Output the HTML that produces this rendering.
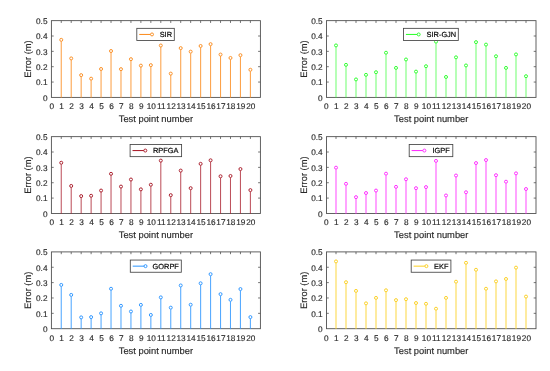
<!DOCTYPE html>
<html><head><meta charset="utf-8"><title>Error per test point</title>
<style>html,body{margin:0;padding:0;background:#fff;}body{width:550px;height:371px;overflow:hidden;font-family:"Liberation Sans",Arial,sans-serif;}svg{display:block;}</style>
</head><body>
<svg width="550" height="371" viewBox="0 0 550 371" font-family="Liberation Sans, Arial, sans-serif" text-rendering="geometricPrecision"><rect width="550" height="371" fill="#fff"/><style>text{stroke:#2a2a2a;stroke-width:0.15px;}</style><g><text x="51.70" y="109.40" font-size="8.25" fill="#2a2a2a" text-anchor="middle">0</text><line x1="61.25" y1="20.65" x2="61.25" y2="22.95" stroke="#505050" stroke-width="0.8"/><text x="61.65" y="109.40" font-size="8.25" fill="#2a2a2a" text-anchor="middle">1</text><line x1="71.21" y1="20.65" x2="71.21" y2="22.95" stroke="#505050" stroke-width="0.8"/><text x="71.61" y="109.40" font-size="8.25" fill="#2a2a2a" text-anchor="middle">2</text><line x1="81.16" y1="20.65" x2="81.16" y2="22.95" stroke="#505050" stroke-width="0.8"/><text x="81.56" y="109.40" font-size="8.25" fill="#2a2a2a" text-anchor="middle">3</text><line x1="91.12" y1="20.65" x2="91.12" y2="22.95" stroke="#505050" stroke-width="0.8"/><text x="91.52" y="109.40" font-size="8.25" fill="#2a2a2a" text-anchor="middle">4</text><line x1="101.07" y1="20.65" x2="101.07" y2="22.95" stroke="#505050" stroke-width="0.8"/><text x="101.47" y="109.40" font-size="8.25" fill="#2a2a2a" text-anchor="middle">5</text><line x1="111.03" y1="20.65" x2="111.03" y2="22.95" stroke="#505050" stroke-width="0.8"/><text x="111.43" y="109.40" font-size="8.25" fill="#2a2a2a" text-anchor="middle">6</text><line x1="120.98" y1="20.65" x2="120.98" y2="22.95" stroke="#505050" stroke-width="0.8"/><text x="121.39" y="109.40" font-size="8.25" fill="#2a2a2a" text-anchor="middle">7</text><line x1="130.94" y1="20.65" x2="130.94" y2="22.95" stroke="#505050" stroke-width="0.8"/><text x="131.34" y="109.40" font-size="8.25" fill="#2a2a2a" text-anchor="middle">8</text><line x1="140.89" y1="20.65" x2="140.89" y2="22.95" stroke="#505050" stroke-width="0.8"/><text x="141.29" y="109.40" font-size="8.25" fill="#2a2a2a" text-anchor="middle">9</text><line x1="150.85" y1="20.65" x2="150.85" y2="22.95" stroke="#505050" stroke-width="0.8"/><text x="151.25" y="109.40" font-size="8.25" fill="#2a2a2a" text-anchor="middle">10</text><line x1="160.81" y1="20.65" x2="160.81" y2="22.95" stroke="#505050" stroke-width="0.8"/><text x="161.21" y="109.40" font-size="8.25" fill="#2a2a2a" text-anchor="middle">11</text><line x1="170.76" y1="20.65" x2="170.76" y2="22.95" stroke="#505050" stroke-width="0.8"/><text x="171.16" y="109.40" font-size="8.25" fill="#2a2a2a" text-anchor="middle">12</text><line x1="180.71" y1="20.65" x2="180.71" y2="22.95" stroke="#505050" stroke-width="0.8"/><text x="181.11" y="109.40" font-size="8.25" fill="#2a2a2a" text-anchor="middle">13</text><line x1="190.67" y1="20.65" x2="190.67" y2="22.95" stroke="#505050" stroke-width="0.8"/><text x="191.07" y="109.40" font-size="8.25" fill="#2a2a2a" text-anchor="middle">14</text><line x1="200.62" y1="20.65" x2="200.62" y2="22.95" stroke="#505050" stroke-width="0.8"/><text x="201.03" y="109.40" font-size="8.25" fill="#2a2a2a" text-anchor="middle">15</text><line x1="210.58" y1="20.65" x2="210.58" y2="22.95" stroke="#505050" stroke-width="0.8"/><text x="210.98" y="109.40" font-size="8.25" fill="#2a2a2a" text-anchor="middle">16</text><line x1="220.54" y1="20.65" x2="220.54" y2="22.95" stroke="#505050" stroke-width="0.8"/><text x="220.94" y="109.40" font-size="8.25" fill="#2a2a2a" text-anchor="middle">17</text><line x1="230.49" y1="20.65" x2="230.49" y2="22.95" stroke="#505050" stroke-width="0.8"/><text x="230.89" y="109.40" font-size="8.25" fill="#2a2a2a" text-anchor="middle">18</text><line x1="240.44" y1="20.65" x2="240.44" y2="22.95" stroke="#505050" stroke-width="0.8"/><text x="240.84" y="109.40" font-size="8.25" fill="#2a2a2a" text-anchor="middle">19</text><line x1="250.40" y1="20.65" x2="250.40" y2="22.95" stroke="#505050" stroke-width="0.8"/><text x="250.80" y="109.40" font-size="8.25" fill="#2a2a2a" text-anchor="middle">20</text><text x="47.50" y="100.80" font-size="8.25" fill="#2a2a2a" text-anchor="end">0</text><line x1="51.40" y1="82.05" x2="53.70" y2="82.05" stroke="#505050" stroke-width="0.8"/><line x1="260.40" y1="82.05" x2="258.10" y2="82.05" stroke="#505050" stroke-width="0.8"/><text x="47.50" y="85.45" font-size="8.25" fill="#2a2a2a" text-anchor="end">0.1</text><line x1="51.40" y1="66.70" x2="53.70" y2="66.70" stroke="#505050" stroke-width="0.8"/><line x1="260.40" y1="66.70" x2="258.10" y2="66.70" stroke="#505050" stroke-width="0.8"/><text x="47.50" y="70.10" font-size="8.25" fill="#2a2a2a" text-anchor="end">0.2</text><line x1="51.40" y1="51.35" x2="53.70" y2="51.35" stroke="#505050" stroke-width="0.8"/><line x1="260.40" y1="51.35" x2="258.10" y2="51.35" stroke="#505050" stroke-width="0.8"/><text x="47.50" y="54.75" font-size="8.25" fill="#2a2a2a" text-anchor="end">0.3</text><line x1="51.40" y1="36.00" x2="53.70" y2="36.00" stroke="#505050" stroke-width="0.8"/><line x1="260.40" y1="36.00" x2="258.10" y2="36.00" stroke="#505050" stroke-width="0.8"/><text x="47.50" y="39.40" font-size="8.25" fill="#2a2a2a" text-anchor="end">0.4</text><text x="47.50" y="24.05" font-size="8.25" fill="#2a2a2a" text-anchor="end">0.5</text><rect x="51.40" y="20.65" width="209.00" height="76.75" fill="none" stroke="#505050" stroke-width="0.9"/><line x1="61.25" y1="97.80" x2="61.25" y2="41.33" stroke="#FB9128" stroke-opacity="0.85" stroke-width="1.05"/><circle cx="61.25" cy="39.83" r="1.5" fill="#fff" stroke="#FB9128" stroke-width="1.0"/><line x1="71.21" y1="97.80" x2="71.21" y2="59.90" stroke="#FB9128" stroke-opacity="0.85" stroke-width="1.05"/><circle cx="71.21" cy="58.40" r="1.5" fill="#fff" stroke="#FB9128" stroke-width="1.0"/><line x1="81.16" y1="97.80" x2="81.16" y2="76.63" stroke="#FB9128" stroke-opacity="0.85" stroke-width="1.05"/><circle cx="81.16" cy="75.13" r="1.5" fill="#fff" stroke="#FB9128" stroke-width="1.0"/><line x1="91.12" y1="97.80" x2="91.12" y2="80.16" stroke="#FB9128" stroke-opacity="0.85" stroke-width="1.05"/><circle cx="91.12" cy="78.66" r="1.5" fill="#fff" stroke="#FB9128" stroke-width="1.0"/><line x1="101.07" y1="97.80" x2="101.07" y2="70.49" stroke="#FB9128" stroke-opacity="0.85" stroke-width="1.05"/><circle cx="101.07" cy="68.99" r="1.5" fill="#fff" stroke="#FB9128" stroke-width="1.0"/><line x1="111.03" y1="97.80" x2="111.03" y2="52.53" stroke="#FB9128" stroke-opacity="0.85" stroke-width="1.05"/><circle cx="111.03" cy="51.03" r="1.5" fill="#fff" stroke="#FB9128" stroke-width="1.0"/><line x1="120.98" y1="97.80" x2="120.98" y2="70.65" stroke="#FB9128" stroke-opacity="0.85" stroke-width="1.05"/><circle cx="120.98" cy="69.15" r="1.5" fill="#fff" stroke="#FB9128" stroke-width="1.0"/><line x1="130.94" y1="97.80" x2="130.94" y2="60.67" stroke="#FB9128" stroke-opacity="0.85" stroke-width="1.05"/><circle cx="130.94" cy="59.17" r="1.5" fill="#fff" stroke="#FB9128" stroke-width="1.0"/><line x1="140.89" y1="97.80" x2="140.89" y2="67.12" stroke="#FB9128" stroke-opacity="0.85" stroke-width="1.05"/><circle cx="140.89" cy="65.62" r="1.5" fill="#fff" stroke="#FB9128" stroke-width="1.0"/><line x1="150.85" y1="97.80" x2="150.85" y2="66.65" stroke="#FB9128" stroke-opacity="0.85" stroke-width="1.05"/><circle cx="150.85" cy="65.15" r="1.5" fill="#fff" stroke="#FB9128" stroke-width="1.0"/><line x1="160.81" y1="97.80" x2="160.81" y2="47.01" stroke="#FB9128" stroke-opacity="0.85" stroke-width="1.05"/><circle cx="160.81" cy="45.51" r="1.5" fill="#fff" stroke="#FB9128" stroke-width="1.0"/><line x1="170.76" y1="97.80" x2="170.76" y2="75.10" stroke="#FB9128" stroke-opacity="0.85" stroke-width="1.05"/><circle cx="170.76" cy="73.60" r="1.5" fill="#fff" stroke="#FB9128" stroke-width="1.0"/><line x1="180.71" y1="97.80" x2="180.71" y2="49.62" stroke="#FB9128" stroke-opacity="0.85" stroke-width="1.05"/><circle cx="180.71" cy="48.12" r="1.5" fill="#fff" stroke="#FB9128" stroke-width="1.0"/><line x1="190.67" y1="97.80" x2="190.67" y2="53.15" stroke="#FB9128" stroke-opacity="0.85" stroke-width="1.05"/><circle cx="190.67" cy="51.65" r="1.5" fill="#fff" stroke="#FB9128" stroke-width="1.0"/><line x1="200.62" y1="97.80" x2="200.62" y2="47.47" stroke="#FB9128" stroke-opacity="0.85" stroke-width="1.05"/><circle cx="200.62" cy="45.97" r="1.5" fill="#fff" stroke="#FB9128" stroke-width="1.0"/><line x1="210.58" y1="97.80" x2="210.58" y2="45.63" stroke="#FB9128" stroke-opacity="0.85" stroke-width="1.05"/><circle cx="210.58" cy="44.13" r="1.5" fill="#fff" stroke="#FB9128" stroke-width="1.0"/><line x1="220.54" y1="97.80" x2="220.54" y2="56.06" stroke="#FB9128" stroke-opacity="0.85" stroke-width="1.05"/><circle cx="220.54" cy="54.56" r="1.5" fill="#fff" stroke="#FB9128" stroke-width="1.0"/><line x1="230.49" y1="97.80" x2="230.49" y2="59.44" stroke="#FB9128" stroke-opacity="0.85" stroke-width="1.05"/><circle cx="230.49" cy="57.94" r="1.5" fill="#fff" stroke="#FB9128" stroke-width="1.0"/><line x1="240.44" y1="97.80" x2="240.44" y2="56.68" stroke="#FB9128" stroke-opacity="0.85" stroke-width="1.05"/><circle cx="240.44" cy="55.18" r="1.5" fill="#fff" stroke="#FB9128" stroke-width="1.0"/><line x1="250.40" y1="97.80" x2="250.40" y2="71.26" stroke="#FB9128" stroke-opacity="0.85" stroke-width="1.05"/><circle cx="250.40" cy="69.76" r="1.5" fill="#fff" stroke="#FB9128" stroke-width="1.0"/><text x="155.90" y="122.30" font-size="9.35" fill="#2a2a2a" text-anchor="middle">Test point number</text><text transform="translate(31.40,59.03) rotate(-90)" font-size="9.35" fill="#2a2a2a" text-anchor="middle">Error (m)</text><rect x="136.80" y="28.35" width="37.50" height="12.20" fill="#fff" stroke="#444" stroke-width="0.85"/><line x1="139.20" y1="34.45" x2="152.00" y2="34.45" stroke="#FB9128" stroke-width="1.05"/><circle cx="152.00" cy="34.45" r="1.5" fill="#fff" stroke="#FB9128" stroke-width="1.0"/><text x="159.70" y="37.15" font-size="7.4" fill="#0a0a0a" style="stroke:#0a0a0a;stroke-width:0.2px">SIR</text></g><g><text x="326.40" y="109.40" font-size="8.25" fill="#2a2a2a" text-anchor="middle">0</text><line x1="336.00" y1="20.65" x2="336.00" y2="22.95" stroke="#505050" stroke-width="0.8"/><text x="336.40" y="109.40" font-size="8.25" fill="#2a2a2a" text-anchor="middle">1</text><line x1="346.00" y1="20.65" x2="346.00" y2="22.95" stroke="#505050" stroke-width="0.8"/><text x="346.40" y="109.40" font-size="8.25" fill="#2a2a2a" text-anchor="middle">2</text><line x1="356.00" y1="20.65" x2="356.00" y2="22.95" stroke="#505050" stroke-width="0.8"/><text x="356.40" y="109.40" font-size="8.25" fill="#2a2a2a" text-anchor="middle">3</text><line x1="366.00" y1="20.65" x2="366.00" y2="22.95" stroke="#505050" stroke-width="0.8"/><text x="366.40" y="109.40" font-size="8.25" fill="#2a2a2a" text-anchor="middle">4</text><line x1="376.00" y1="20.65" x2="376.00" y2="22.95" stroke="#505050" stroke-width="0.8"/><text x="376.40" y="109.40" font-size="8.25" fill="#2a2a2a" text-anchor="middle">5</text><line x1="386.00" y1="20.65" x2="386.00" y2="22.95" stroke="#505050" stroke-width="0.8"/><text x="386.40" y="109.40" font-size="8.25" fill="#2a2a2a" text-anchor="middle">6</text><line x1="396.00" y1="20.65" x2="396.00" y2="22.95" stroke="#505050" stroke-width="0.8"/><text x="396.40" y="109.40" font-size="8.25" fill="#2a2a2a" text-anchor="middle">7</text><line x1="406.00" y1="20.65" x2="406.00" y2="22.95" stroke="#505050" stroke-width="0.8"/><text x="406.40" y="109.40" font-size="8.25" fill="#2a2a2a" text-anchor="middle">8</text><line x1="416.00" y1="20.65" x2="416.00" y2="22.95" stroke="#505050" stroke-width="0.8"/><text x="416.40" y="109.40" font-size="8.25" fill="#2a2a2a" text-anchor="middle">9</text><line x1="426.00" y1="20.65" x2="426.00" y2="22.95" stroke="#505050" stroke-width="0.8"/><text x="426.40" y="109.40" font-size="8.25" fill="#2a2a2a" text-anchor="middle">10</text><line x1="436.00" y1="20.65" x2="436.00" y2="22.95" stroke="#505050" stroke-width="0.8"/><text x="436.40" y="109.40" font-size="8.25" fill="#2a2a2a" text-anchor="middle">11</text><line x1="446.00" y1="20.65" x2="446.00" y2="22.95" stroke="#505050" stroke-width="0.8"/><text x="446.40" y="109.40" font-size="8.25" fill="#2a2a2a" text-anchor="middle">12</text><line x1="456.00" y1="20.65" x2="456.00" y2="22.95" stroke="#505050" stroke-width="0.8"/><text x="456.40" y="109.40" font-size="8.25" fill="#2a2a2a" text-anchor="middle">13</text><line x1="466.00" y1="20.65" x2="466.00" y2="22.95" stroke="#505050" stroke-width="0.8"/><text x="466.40" y="109.40" font-size="8.25" fill="#2a2a2a" text-anchor="middle">14</text><line x1="476.00" y1="20.65" x2="476.00" y2="22.95" stroke="#505050" stroke-width="0.8"/><text x="476.40" y="109.40" font-size="8.25" fill="#2a2a2a" text-anchor="middle">15</text><line x1="486.00" y1="20.65" x2="486.00" y2="22.95" stroke="#505050" stroke-width="0.8"/><text x="486.40" y="109.40" font-size="8.25" fill="#2a2a2a" text-anchor="middle">16</text><line x1="496.00" y1="20.65" x2="496.00" y2="22.95" stroke="#505050" stroke-width="0.8"/><text x="496.40" y="109.40" font-size="8.25" fill="#2a2a2a" text-anchor="middle">17</text><line x1="506.00" y1="20.65" x2="506.00" y2="22.95" stroke="#505050" stroke-width="0.8"/><text x="506.40" y="109.40" font-size="8.25" fill="#2a2a2a" text-anchor="middle">18</text><line x1="516.00" y1="20.65" x2="516.00" y2="22.95" stroke="#505050" stroke-width="0.8"/><text x="516.40" y="109.40" font-size="8.25" fill="#2a2a2a" text-anchor="middle">19</text><line x1="526.00" y1="20.65" x2="526.00" y2="22.95" stroke="#505050" stroke-width="0.8"/><text x="526.40" y="109.40" font-size="8.25" fill="#2a2a2a" text-anchor="middle">20</text><text x="322.60" y="100.80" font-size="8.25" fill="#2a2a2a" text-anchor="end">0</text><line x1="326.50" y1="82.05" x2="328.80" y2="82.05" stroke="#505050" stroke-width="0.8"/><line x1="536.00" y1="82.05" x2="533.70" y2="82.05" stroke="#505050" stroke-width="0.8"/><text x="322.60" y="85.45" font-size="8.25" fill="#2a2a2a" text-anchor="end">0.1</text><line x1="326.50" y1="66.70" x2="328.80" y2="66.70" stroke="#505050" stroke-width="0.8"/><line x1="536.00" y1="66.70" x2="533.70" y2="66.70" stroke="#505050" stroke-width="0.8"/><text x="322.60" y="70.10" font-size="8.25" fill="#2a2a2a" text-anchor="end">0.2</text><line x1="326.50" y1="51.35" x2="328.80" y2="51.35" stroke="#505050" stroke-width="0.8"/><line x1="536.00" y1="51.35" x2="533.70" y2="51.35" stroke="#505050" stroke-width="0.8"/><text x="322.60" y="54.75" font-size="8.25" fill="#2a2a2a" text-anchor="end">0.3</text><line x1="326.50" y1="36.00" x2="328.80" y2="36.00" stroke="#505050" stroke-width="0.8"/><line x1="536.00" y1="36.00" x2="533.70" y2="36.00" stroke="#505050" stroke-width="0.8"/><text x="322.60" y="39.40" font-size="8.25" fill="#2a2a2a" text-anchor="end">0.4</text><text x="322.60" y="24.05" font-size="8.25" fill="#2a2a2a" text-anchor="end">0.5</text><rect x="326.50" y="20.65" width="209.50" height="76.75" fill="none" stroke="#505050" stroke-width="0.9"/><line x1="336.00" y1="97.80" x2="336.00" y2="46.93" stroke="#33FF33" stroke-opacity="0.68" stroke-width="1.05"/><circle cx="336.00" cy="45.43" r="1.5" fill="#fff" stroke="#33FF33" stroke-width="1.0"/><line x1="346.00" y1="97.80" x2="346.00" y2="66.35" stroke="#33FF33" stroke-opacity="0.68" stroke-width="1.05"/><circle cx="346.00" cy="64.85" r="1.5" fill="#fff" stroke="#33FF33" stroke-width="1.0"/><line x1="356.00" y1="97.80" x2="356.00" y2="80.93" stroke="#33FF33" stroke-opacity="0.68" stroke-width="1.05"/><circle cx="356.00" cy="79.43" r="1.5" fill="#fff" stroke="#33FF33" stroke-width="1.0"/><line x1="366.00" y1="97.80" x2="366.00" y2="76.33" stroke="#33FF33" stroke-opacity="0.68" stroke-width="1.05"/><circle cx="366.00" cy="74.83" r="1.5" fill="#fff" stroke="#33FF33" stroke-width="1.0"/><line x1="376.00" y1="97.80" x2="376.00" y2="73.72" stroke="#33FF33" stroke-opacity="0.68" stroke-width="1.05"/><circle cx="376.00" cy="72.22" r="1.5" fill="#fff" stroke="#33FF33" stroke-width="1.0"/><line x1="386.00" y1="97.80" x2="386.00" y2="54.22" stroke="#33FF33" stroke-opacity="0.68" stroke-width="1.05"/><circle cx="386.00" cy="52.72" r="1.5" fill="#fff" stroke="#33FF33" stroke-width="1.0"/><line x1="396.00" y1="97.80" x2="396.00" y2="69.42" stroke="#33FF33" stroke-opacity="0.68" stroke-width="1.05"/><circle cx="396.00" cy="67.92" r="1.5" fill="#fff" stroke="#33FF33" stroke-width="1.0"/><line x1="406.00" y1="97.80" x2="406.00" y2="60.98" stroke="#33FF33" stroke-opacity="0.68" stroke-width="1.05"/><circle cx="406.00" cy="59.48" r="1.5" fill="#fff" stroke="#33FF33" stroke-width="1.0"/><line x1="416.00" y1="97.80" x2="416.00" y2="73.10" stroke="#33FF33" stroke-opacity="0.68" stroke-width="1.05"/><circle cx="416.00" cy="71.60" r="1.5" fill="#fff" stroke="#33FF33" stroke-width="1.0"/><line x1="426.00" y1="97.80" x2="426.00" y2="67.73" stroke="#33FF33" stroke-opacity="0.68" stroke-width="1.05"/><circle cx="426.00" cy="66.23" r="1.5" fill="#fff" stroke="#33FF33" stroke-width="1.0"/><line x1="436.00" y1="97.80" x2="436.00" y2="43.17" stroke="#33FF33" stroke-opacity="0.68" stroke-width="1.05"/><circle cx="436.00" cy="41.67" r="1.5" fill="#fff" stroke="#33FF33" stroke-width="1.0"/><line x1="446.00" y1="97.80" x2="446.00" y2="78.47" stroke="#33FF33" stroke-opacity="0.68" stroke-width="1.05"/><circle cx="446.00" cy="76.97" r="1.5" fill="#fff" stroke="#33FF33" stroke-width="1.0"/><line x1="456.00" y1="97.80" x2="456.00" y2="58.83" stroke="#33FF33" stroke-opacity="0.68" stroke-width="1.05"/><circle cx="456.00" cy="57.33" r="1.5" fill="#fff" stroke="#33FF33" stroke-width="1.0"/><line x1="466.00" y1="97.80" x2="466.00" y2="66.96" stroke="#33FF33" stroke-opacity="0.68" stroke-width="1.05"/><circle cx="466.00" cy="65.46" r="1.5" fill="#fff" stroke="#33FF33" stroke-width="1.0"/><line x1="476.00" y1="97.80" x2="476.00" y2="43.63" stroke="#33FF33" stroke-opacity="0.68" stroke-width="1.05"/><circle cx="476.00" cy="42.13" r="1.5" fill="#fff" stroke="#33FF33" stroke-width="1.0"/><line x1="486.00" y1="97.80" x2="486.00" y2="46.09" stroke="#33FF33" stroke-opacity="0.68" stroke-width="1.05"/><circle cx="486.00" cy="44.59" r="1.5" fill="#fff" stroke="#33FF33" stroke-width="1.0"/><line x1="496.00" y1="97.80" x2="496.00" y2="57.75" stroke="#33FF33" stroke-opacity="0.68" stroke-width="1.05"/><circle cx="496.00" cy="56.25" r="1.5" fill="#fff" stroke="#33FF33" stroke-width="1.0"/><line x1="506.00" y1="97.80" x2="506.00" y2="69.42" stroke="#33FF33" stroke-opacity="0.68" stroke-width="1.05"/><circle cx="506.00" cy="67.92" r="1.5" fill="#fff" stroke="#33FF33" stroke-width="1.0"/><line x1="516.00" y1="97.80" x2="516.00" y2="55.91" stroke="#33FF33" stroke-opacity="0.68" stroke-width="1.05"/><circle cx="516.00" cy="54.41" r="1.5" fill="#fff" stroke="#33FF33" stroke-width="1.0"/><line x1="526.00" y1="97.80" x2="526.00" y2="77.71" stroke="#33FF33" stroke-opacity="0.68" stroke-width="1.05"/><circle cx="526.00" cy="76.21" r="1.5" fill="#fff" stroke="#33FF33" stroke-width="1.0"/><text x="431.25" y="122.30" font-size="9.35" fill="#2a2a2a" text-anchor="middle">Test point number</text><text transform="translate(306.50,59.03) rotate(-90)" font-size="9.35" fill="#2a2a2a" text-anchor="middle">Error (m)</text><rect x="403.50" y="28.35" width="54.80" height="12.20" fill="#fff" stroke="#444" stroke-width="0.85"/><line x1="405.90" y1="34.45" x2="418.70" y2="34.45" stroke="#33FF33" stroke-width="1.05"/><circle cx="418.70" cy="34.45" r="1.5" fill="#fff" stroke="#33FF33" stroke-width="1.0"/><text x="426.60" y="37.15" font-size="7.4" fill="#0a0a0a" style="stroke:#0a0a0a;stroke-width:0.2px">SIR-GJN</text></g><g><text x="51.70" y="225.45" font-size="8.25" fill="#2a2a2a" text-anchor="middle">0</text><line x1="61.25" y1="136.65" x2="61.25" y2="138.95" stroke="#505050" stroke-width="0.8"/><text x="61.65" y="225.45" font-size="8.25" fill="#2a2a2a" text-anchor="middle">1</text><line x1="71.21" y1="136.65" x2="71.21" y2="138.95" stroke="#505050" stroke-width="0.8"/><text x="71.61" y="225.45" font-size="8.25" fill="#2a2a2a" text-anchor="middle">2</text><line x1="81.16" y1="136.65" x2="81.16" y2="138.95" stroke="#505050" stroke-width="0.8"/><text x="81.56" y="225.45" font-size="8.25" fill="#2a2a2a" text-anchor="middle">3</text><line x1="91.12" y1="136.65" x2="91.12" y2="138.95" stroke="#505050" stroke-width="0.8"/><text x="91.52" y="225.45" font-size="8.25" fill="#2a2a2a" text-anchor="middle">4</text><line x1="101.07" y1="136.65" x2="101.07" y2="138.95" stroke="#505050" stroke-width="0.8"/><text x="101.47" y="225.45" font-size="8.25" fill="#2a2a2a" text-anchor="middle">5</text><line x1="111.03" y1="136.65" x2="111.03" y2="138.95" stroke="#505050" stroke-width="0.8"/><text x="111.43" y="225.45" font-size="8.25" fill="#2a2a2a" text-anchor="middle">6</text><line x1="120.98" y1="136.65" x2="120.98" y2="138.95" stroke="#505050" stroke-width="0.8"/><text x="121.39" y="225.45" font-size="8.25" fill="#2a2a2a" text-anchor="middle">7</text><line x1="130.94" y1="136.65" x2="130.94" y2="138.95" stroke="#505050" stroke-width="0.8"/><text x="131.34" y="225.45" font-size="8.25" fill="#2a2a2a" text-anchor="middle">8</text><line x1="140.89" y1="136.65" x2="140.89" y2="138.95" stroke="#505050" stroke-width="0.8"/><text x="141.29" y="225.45" font-size="8.25" fill="#2a2a2a" text-anchor="middle">9</text><line x1="150.85" y1="136.65" x2="150.85" y2="138.95" stroke="#505050" stroke-width="0.8"/><text x="151.25" y="225.45" font-size="8.25" fill="#2a2a2a" text-anchor="middle">10</text><line x1="160.81" y1="136.65" x2="160.81" y2="138.95" stroke="#505050" stroke-width="0.8"/><text x="161.21" y="225.45" font-size="8.25" fill="#2a2a2a" text-anchor="middle">11</text><line x1="170.76" y1="136.65" x2="170.76" y2="138.95" stroke="#505050" stroke-width="0.8"/><text x="171.16" y="225.45" font-size="8.25" fill="#2a2a2a" text-anchor="middle">12</text><line x1="180.71" y1="136.65" x2="180.71" y2="138.95" stroke="#505050" stroke-width="0.8"/><text x="181.11" y="225.45" font-size="8.25" fill="#2a2a2a" text-anchor="middle">13</text><line x1="190.67" y1="136.65" x2="190.67" y2="138.95" stroke="#505050" stroke-width="0.8"/><text x="191.07" y="225.45" font-size="8.25" fill="#2a2a2a" text-anchor="middle">14</text><line x1="200.62" y1="136.65" x2="200.62" y2="138.95" stroke="#505050" stroke-width="0.8"/><text x="201.03" y="225.45" font-size="8.25" fill="#2a2a2a" text-anchor="middle">15</text><line x1="210.58" y1="136.65" x2="210.58" y2="138.95" stroke="#505050" stroke-width="0.8"/><text x="210.98" y="225.45" font-size="8.25" fill="#2a2a2a" text-anchor="middle">16</text><line x1="220.54" y1="136.65" x2="220.54" y2="138.95" stroke="#505050" stroke-width="0.8"/><text x="220.94" y="225.45" font-size="8.25" fill="#2a2a2a" text-anchor="middle">17</text><line x1="230.49" y1="136.65" x2="230.49" y2="138.95" stroke="#505050" stroke-width="0.8"/><text x="230.89" y="225.45" font-size="8.25" fill="#2a2a2a" text-anchor="middle">18</text><line x1="240.44" y1="136.65" x2="240.44" y2="138.95" stroke="#505050" stroke-width="0.8"/><text x="240.84" y="225.45" font-size="8.25" fill="#2a2a2a" text-anchor="middle">19</text><line x1="250.40" y1="136.65" x2="250.40" y2="138.95" stroke="#505050" stroke-width="0.8"/><text x="250.80" y="225.45" font-size="8.25" fill="#2a2a2a" text-anchor="middle">20</text><text x="47.50" y="216.85" font-size="8.25" fill="#2a2a2a" text-anchor="end">0</text><line x1="51.40" y1="198.09" x2="53.70" y2="198.09" stroke="#505050" stroke-width="0.8"/><line x1="260.40" y1="198.09" x2="258.10" y2="198.09" stroke="#505050" stroke-width="0.8"/><text x="47.50" y="201.49" font-size="8.25" fill="#2a2a2a" text-anchor="end">0.1</text><line x1="51.40" y1="182.73" x2="53.70" y2="182.73" stroke="#505050" stroke-width="0.8"/><line x1="260.40" y1="182.73" x2="258.10" y2="182.73" stroke="#505050" stroke-width="0.8"/><text x="47.50" y="186.13" font-size="8.25" fill="#2a2a2a" text-anchor="end">0.2</text><line x1="51.40" y1="167.37" x2="53.70" y2="167.37" stroke="#505050" stroke-width="0.8"/><line x1="260.40" y1="167.37" x2="258.10" y2="167.37" stroke="#505050" stroke-width="0.8"/><text x="47.50" y="170.77" font-size="8.25" fill="#2a2a2a" text-anchor="end">0.3</text><line x1="51.40" y1="152.01" x2="53.70" y2="152.01" stroke="#505050" stroke-width="0.8"/><line x1="260.40" y1="152.01" x2="258.10" y2="152.01" stroke="#505050" stroke-width="0.8"/><text x="47.50" y="155.41" font-size="8.25" fill="#2a2a2a" text-anchor="end">0.4</text><text x="47.50" y="140.05" font-size="8.25" fill="#2a2a2a" text-anchor="end">0.5</text><rect x="51.40" y="136.65" width="209.00" height="76.80" fill="none" stroke="#505050" stroke-width="0.9"/><line x1="61.25" y1="213.85" x2="61.25" y2="164.26" stroke="#AC2331" stroke-opacity="0.78" stroke-width="1.05"/><circle cx="61.25" cy="162.76" r="1.5" fill="#fff" stroke="#AC2331" stroke-width="1.0"/><line x1="71.21" y1="213.85" x2="71.21" y2="187.45" stroke="#AC2331" stroke-opacity="0.78" stroke-width="1.05"/><circle cx="71.21" cy="185.95" r="1.5" fill="#fff" stroke="#AC2331" stroke-width="1.0"/><line x1="81.16" y1="213.85" x2="81.16" y2="197.59" stroke="#AC2331" stroke-opacity="0.78" stroke-width="1.05"/><circle cx="81.16" cy="196.09" r="1.5" fill="#fff" stroke="#AC2331" stroke-width="1.0"/><line x1="91.12" y1="213.85" x2="91.12" y2="197.28" stroke="#AC2331" stroke-opacity="0.78" stroke-width="1.05"/><circle cx="91.12" cy="195.78" r="1.5" fill="#fff" stroke="#AC2331" stroke-width="1.0"/><line x1="101.07" y1="213.85" x2="101.07" y2="192.06" stroke="#AC2331" stroke-opacity="0.78" stroke-width="1.05"/><circle cx="101.07" cy="190.56" r="1.5" fill="#fff" stroke="#AC2331" stroke-width="1.0"/><line x1="111.03" y1="213.85" x2="111.03" y2="175.32" stroke="#AC2331" stroke-opacity="0.78" stroke-width="1.05"/><circle cx="111.03" cy="173.82" r="1.5" fill="#fff" stroke="#AC2331" stroke-width="1.0"/><line x1="120.98" y1="213.85" x2="120.98" y2="188.07" stroke="#AC2331" stroke-opacity="0.78" stroke-width="1.05"/><circle cx="120.98" cy="186.57" r="1.5" fill="#fff" stroke="#AC2331" stroke-width="1.0"/><line x1="130.94" y1="213.85" x2="130.94" y2="181.00" stroke="#AC2331" stroke-opacity="0.78" stroke-width="1.05"/><circle cx="130.94" cy="179.50" r="1.5" fill="#fff" stroke="#AC2331" stroke-width="1.0"/><line x1="140.89" y1="213.85" x2="140.89" y2="190.83" stroke="#AC2331" stroke-opacity="0.78" stroke-width="1.05"/><circle cx="140.89" cy="189.33" r="1.5" fill="#fff" stroke="#AC2331" stroke-width="1.0"/><line x1="150.85" y1="213.85" x2="150.85" y2="186.22" stroke="#AC2331" stroke-opacity="0.78" stroke-width="1.05"/><circle cx="150.85" cy="184.72" r="1.5" fill="#fff" stroke="#AC2331" stroke-width="1.0"/><line x1="160.81" y1="213.85" x2="160.81" y2="162.11" stroke="#AC2331" stroke-opacity="0.78" stroke-width="1.05"/><circle cx="160.81" cy="160.61" r="1.5" fill="#fff" stroke="#AC2331" stroke-width="1.0"/><line x1="170.76" y1="213.85" x2="170.76" y2="196.67" stroke="#AC2331" stroke-opacity="0.78" stroke-width="1.05"/><circle cx="170.76" cy="195.17" r="1.5" fill="#fff" stroke="#AC2331" stroke-width="1.0"/><line x1="180.71" y1="213.85" x2="180.71" y2="172.09" stroke="#AC2331" stroke-opacity="0.78" stroke-width="1.05"/><circle cx="180.71" cy="170.59" r="1.5" fill="#fff" stroke="#AC2331" stroke-width="1.0"/><line x1="190.67" y1="213.85" x2="190.67" y2="189.68" stroke="#AC2331" stroke-opacity="0.78" stroke-width="1.05"/><circle cx="190.67" cy="188.18" r="1.5" fill="#fff" stroke="#AC2331" stroke-width="1.0"/><line x1="200.62" y1="213.85" x2="200.62" y2="165.33" stroke="#AC2331" stroke-opacity="0.78" stroke-width="1.05"/><circle cx="200.62" cy="163.83" r="1.5" fill="#fff" stroke="#AC2331" stroke-width="1.0"/><line x1="210.58" y1="213.85" x2="210.58" y2="161.80" stroke="#AC2331" stroke-opacity="0.78" stroke-width="1.05"/><circle cx="210.58" cy="160.30" r="1.5" fill="#fff" stroke="#AC2331" stroke-width="1.0"/><line x1="220.54" y1="213.85" x2="220.54" y2="177.78" stroke="#AC2331" stroke-opacity="0.78" stroke-width="1.05"/><circle cx="220.54" cy="176.28" r="1.5" fill="#fff" stroke="#AC2331" stroke-width="1.0"/><line x1="230.49" y1="213.85" x2="230.49" y2="177.47" stroke="#AC2331" stroke-opacity="0.78" stroke-width="1.05"/><circle cx="230.49" cy="175.97" r="1.5" fill="#fff" stroke="#AC2331" stroke-width="1.0"/><line x1="240.44" y1="213.85" x2="240.44" y2="170.56" stroke="#AC2331" stroke-opacity="0.78" stroke-width="1.05"/><circle cx="240.44" cy="169.06" r="1.5" fill="#fff" stroke="#AC2331" stroke-width="1.0"/><line x1="250.40" y1="213.85" x2="250.40" y2="191.60" stroke="#AC2331" stroke-opacity="0.78" stroke-width="1.05"/><circle cx="250.40" cy="190.10" r="1.5" fill="#fff" stroke="#AC2331" stroke-width="1.0"/><text x="155.90" y="238.35" font-size="9.35" fill="#2a2a2a" text-anchor="middle">Test point number</text><text transform="translate(31.40,175.05) rotate(-90)" font-size="9.35" fill="#2a2a2a" text-anchor="middle">Error (m)</text><rect x="130.10" y="144.45" width="51.50" height="12.20" fill="#fff" stroke="#444" stroke-width="0.85"/><line x1="132.50" y1="150.55" x2="145.30" y2="150.55" stroke="#AC2331" stroke-width="1.05"/><circle cx="145.30" cy="150.55" r="1.5" fill="#fff" stroke="#AC2331" stroke-width="1.0"/><text x="153.00" y="153.25" font-size="7.4" fill="#0a0a0a" style="stroke:#0a0a0a;stroke-width:0.2px">RPFGA</text></g><g><text x="326.40" y="225.45" font-size="8.25" fill="#2a2a2a" text-anchor="middle">0</text><line x1="336.00" y1="136.65" x2="336.00" y2="138.95" stroke="#505050" stroke-width="0.8"/><text x="336.40" y="225.45" font-size="8.25" fill="#2a2a2a" text-anchor="middle">1</text><line x1="346.00" y1="136.65" x2="346.00" y2="138.95" stroke="#505050" stroke-width="0.8"/><text x="346.40" y="225.45" font-size="8.25" fill="#2a2a2a" text-anchor="middle">2</text><line x1="356.00" y1="136.65" x2="356.00" y2="138.95" stroke="#505050" stroke-width="0.8"/><text x="356.40" y="225.45" font-size="8.25" fill="#2a2a2a" text-anchor="middle">3</text><line x1="366.00" y1="136.65" x2="366.00" y2="138.95" stroke="#505050" stroke-width="0.8"/><text x="366.40" y="225.45" font-size="8.25" fill="#2a2a2a" text-anchor="middle">4</text><line x1="376.00" y1="136.65" x2="376.00" y2="138.95" stroke="#505050" stroke-width="0.8"/><text x="376.40" y="225.45" font-size="8.25" fill="#2a2a2a" text-anchor="middle">5</text><line x1="386.00" y1="136.65" x2="386.00" y2="138.95" stroke="#505050" stroke-width="0.8"/><text x="386.40" y="225.45" font-size="8.25" fill="#2a2a2a" text-anchor="middle">6</text><line x1="396.00" y1="136.65" x2="396.00" y2="138.95" stroke="#505050" stroke-width="0.8"/><text x="396.40" y="225.45" font-size="8.25" fill="#2a2a2a" text-anchor="middle">7</text><line x1="406.00" y1="136.65" x2="406.00" y2="138.95" stroke="#505050" stroke-width="0.8"/><text x="406.40" y="225.45" font-size="8.25" fill="#2a2a2a" text-anchor="middle">8</text><line x1="416.00" y1="136.65" x2="416.00" y2="138.95" stroke="#505050" stroke-width="0.8"/><text x="416.40" y="225.45" font-size="8.25" fill="#2a2a2a" text-anchor="middle">9</text><line x1="426.00" y1="136.65" x2="426.00" y2="138.95" stroke="#505050" stroke-width="0.8"/><text x="426.40" y="225.45" font-size="8.25" fill="#2a2a2a" text-anchor="middle">10</text><line x1="436.00" y1="136.65" x2="436.00" y2="138.95" stroke="#505050" stroke-width="0.8"/><text x="436.40" y="225.45" font-size="8.25" fill="#2a2a2a" text-anchor="middle">11</text><line x1="446.00" y1="136.65" x2="446.00" y2="138.95" stroke="#505050" stroke-width="0.8"/><text x="446.40" y="225.45" font-size="8.25" fill="#2a2a2a" text-anchor="middle">12</text><line x1="456.00" y1="136.65" x2="456.00" y2="138.95" stroke="#505050" stroke-width="0.8"/><text x="456.40" y="225.45" font-size="8.25" fill="#2a2a2a" text-anchor="middle">13</text><line x1="466.00" y1="136.65" x2="466.00" y2="138.95" stroke="#505050" stroke-width="0.8"/><text x="466.40" y="225.45" font-size="8.25" fill="#2a2a2a" text-anchor="middle">14</text><line x1="476.00" y1="136.65" x2="476.00" y2="138.95" stroke="#505050" stroke-width="0.8"/><text x="476.40" y="225.45" font-size="8.25" fill="#2a2a2a" text-anchor="middle">15</text><line x1="486.00" y1="136.65" x2="486.00" y2="138.95" stroke="#505050" stroke-width="0.8"/><text x="486.40" y="225.45" font-size="8.25" fill="#2a2a2a" text-anchor="middle">16</text><line x1="496.00" y1="136.65" x2="496.00" y2="138.95" stroke="#505050" stroke-width="0.8"/><text x="496.40" y="225.45" font-size="8.25" fill="#2a2a2a" text-anchor="middle">17</text><line x1="506.00" y1="136.65" x2="506.00" y2="138.95" stroke="#505050" stroke-width="0.8"/><text x="506.40" y="225.45" font-size="8.25" fill="#2a2a2a" text-anchor="middle">18</text><line x1="516.00" y1="136.65" x2="516.00" y2="138.95" stroke="#505050" stroke-width="0.8"/><text x="516.40" y="225.45" font-size="8.25" fill="#2a2a2a" text-anchor="middle">19</text><line x1="526.00" y1="136.65" x2="526.00" y2="138.95" stroke="#505050" stroke-width="0.8"/><text x="526.40" y="225.45" font-size="8.25" fill="#2a2a2a" text-anchor="middle">20</text><text x="322.60" y="216.85" font-size="8.25" fill="#2a2a2a" text-anchor="end">0</text><line x1="326.50" y1="198.09" x2="328.80" y2="198.09" stroke="#505050" stroke-width="0.8"/><line x1="536.00" y1="198.09" x2="533.70" y2="198.09" stroke="#505050" stroke-width="0.8"/><text x="322.60" y="201.49" font-size="8.25" fill="#2a2a2a" text-anchor="end">0.1</text><line x1="326.50" y1="182.73" x2="328.80" y2="182.73" stroke="#505050" stroke-width="0.8"/><line x1="536.00" y1="182.73" x2="533.70" y2="182.73" stroke="#505050" stroke-width="0.8"/><text x="322.60" y="186.13" font-size="8.25" fill="#2a2a2a" text-anchor="end">0.2</text><line x1="326.50" y1="167.37" x2="328.80" y2="167.37" stroke="#505050" stroke-width="0.8"/><line x1="536.00" y1="167.37" x2="533.70" y2="167.37" stroke="#505050" stroke-width="0.8"/><text x="322.60" y="170.77" font-size="8.25" fill="#2a2a2a" text-anchor="end">0.3</text><line x1="326.50" y1="152.01" x2="328.80" y2="152.01" stroke="#505050" stroke-width="0.8"/><line x1="536.00" y1="152.01" x2="533.70" y2="152.01" stroke="#505050" stroke-width="0.8"/><text x="322.60" y="155.41" font-size="8.25" fill="#2a2a2a" text-anchor="end">0.4</text><text x="322.60" y="140.05" font-size="8.25" fill="#2a2a2a" text-anchor="end">0.5</text><rect x="326.50" y="136.65" width="209.50" height="76.80" fill="none" stroke="#505050" stroke-width="0.9"/><line x1="336.00" y1="213.85" x2="336.00" y2="169.17" stroke="#FF33FF" stroke-opacity="0.85" stroke-width="1.05"/><circle cx="336.00" cy="167.67" r="1.5" fill="#fff" stroke="#FF33FF" stroke-width="1.0"/><line x1="346.00" y1="213.85" x2="346.00" y2="185.30" stroke="#FF33FF" stroke-opacity="0.85" stroke-width="1.05"/><circle cx="346.00" cy="183.80" r="1.5" fill="#fff" stroke="#FF33FF" stroke-width="1.0"/><line x1="356.00" y1="213.85" x2="356.00" y2="198.66" stroke="#FF33FF" stroke-opacity="0.85" stroke-width="1.05"/><circle cx="356.00" cy="197.16" r="1.5" fill="#fff" stroke="#FF33FF" stroke-width="1.0"/><line x1="366.00" y1="213.85" x2="366.00" y2="194.52" stroke="#FF33FF" stroke-opacity="0.85" stroke-width="1.05"/><circle cx="366.00" cy="193.02" r="1.5" fill="#fff" stroke="#FF33FF" stroke-width="1.0"/><line x1="376.00" y1="213.85" x2="376.00" y2="192.06" stroke="#FF33FF" stroke-opacity="0.85" stroke-width="1.05"/><circle cx="376.00" cy="190.56" r="1.5" fill="#fff" stroke="#FF33FF" stroke-width="1.0"/><line x1="386.00" y1="213.85" x2="386.00" y2="175.16" stroke="#FF33FF" stroke-opacity="0.85" stroke-width="1.05"/><circle cx="386.00" cy="173.66" r="1.5" fill="#fff" stroke="#FF33FF" stroke-width="1.0"/><line x1="396.00" y1="213.85" x2="396.00" y2="188.37" stroke="#FF33FF" stroke-opacity="0.85" stroke-width="1.05"/><circle cx="396.00" cy="186.87" r="1.5" fill="#fff" stroke="#FF33FF" stroke-width="1.0"/><line x1="406.00" y1="213.85" x2="406.00" y2="180.76" stroke="#FF33FF" stroke-opacity="0.85" stroke-width="1.05"/><circle cx="406.00" cy="179.26" r="1.5" fill="#fff" stroke="#FF33FF" stroke-width="1.0"/><line x1="416.00" y1="213.85" x2="416.00" y2="189.68" stroke="#FF33FF" stroke-opacity="0.85" stroke-width="1.05"/><circle cx="416.00" cy="188.18" r="1.5" fill="#fff" stroke="#FF33FF" stroke-width="1.0"/><line x1="426.00" y1="213.85" x2="426.00" y2="188.60" stroke="#FF33FF" stroke-opacity="0.85" stroke-width="1.05"/><circle cx="426.00" cy="187.10" r="1.5" fill="#fff" stroke="#FF33FF" stroke-width="1.0"/><line x1="436.00" y1="213.85" x2="436.00" y2="162.42" stroke="#FF33FF" stroke-opacity="0.85" stroke-width="1.05"/><circle cx="436.00" cy="160.92" r="1.5" fill="#fff" stroke="#FF33FF" stroke-width="1.0"/><line x1="446.00" y1="213.85" x2="446.00" y2="196.98" stroke="#FF33FF" stroke-opacity="0.85" stroke-width="1.05"/><circle cx="446.00" cy="195.48" r="1.5" fill="#fff" stroke="#FF33FF" stroke-width="1.0"/><line x1="456.00" y1="213.85" x2="456.00" y2="177.01" stroke="#FF33FF" stroke-opacity="0.85" stroke-width="1.05"/><circle cx="456.00" cy="175.51" r="1.5" fill="#fff" stroke="#FF33FF" stroke-width="1.0"/><line x1="466.00" y1="213.85" x2="466.00" y2="193.75" stroke="#FF33FF" stroke-opacity="0.85" stroke-width="1.05"/><circle cx="466.00" cy="192.25" r="1.5" fill="#fff" stroke="#FF33FF" stroke-width="1.0"/><line x1="476.00" y1="213.85" x2="476.00" y2="164.57" stroke="#FF33FF" stroke-opacity="0.85" stroke-width="1.05"/><circle cx="476.00" cy="163.07" r="1.5" fill="#fff" stroke="#FF33FF" stroke-width="1.0"/><line x1="486.00" y1="213.85" x2="486.00" y2="161.56" stroke="#FF33FF" stroke-opacity="0.85" stroke-width="1.05"/><circle cx="486.00" cy="160.06" r="1.5" fill="#fff" stroke="#FF33FF" stroke-width="1.0"/><line x1="496.00" y1="213.85" x2="496.00" y2="176.70" stroke="#FF33FF" stroke-opacity="0.85" stroke-width="1.05"/><circle cx="496.00" cy="175.20" r="1.5" fill="#fff" stroke="#FF33FF" stroke-width="1.0"/><line x1="506.00" y1="213.85" x2="506.00" y2="183.20" stroke="#FF33FF" stroke-opacity="0.85" stroke-width="1.05"/><circle cx="506.00" cy="181.70" r="1.5" fill="#fff" stroke="#FF33FF" stroke-width="1.0"/><line x1="516.00" y1="213.85" x2="516.00" y2="174.86" stroke="#FF33FF" stroke-opacity="0.85" stroke-width="1.05"/><circle cx="516.00" cy="173.36" r="1.5" fill="#fff" stroke="#FF33FF" stroke-width="1.0"/><line x1="526.00" y1="213.85" x2="526.00" y2="190.52" stroke="#FF33FF" stroke-opacity="0.85" stroke-width="1.05"/><circle cx="526.00" cy="189.02" r="1.5" fill="#fff" stroke="#FF33FF" stroke-width="1.0"/><text x="431.25" y="238.35" font-size="9.35" fill="#2a2a2a" text-anchor="middle">Test point number</text><text transform="translate(306.50,175.05) rotate(-90)" font-size="9.35" fill="#2a2a2a" text-anchor="middle">Error (m)</text><rect x="409.20" y="144.45" width="43.60" height="12.20" fill="#fff" stroke="#444" stroke-width="0.85"/><line x1="411.60" y1="150.55" x2="424.40" y2="150.55" stroke="#FF33FF" stroke-width="1.05"/><circle cx="424.40" cy="150.55" r="1.5" fill="#fff" stroke="#FF33FF" stroke-width="1.0"/><text x="432.50" y="153.25" font-size="7.4" fill="#0a0a0a" style="stroke:#0a0a0a;stroke-width:0.2px">IGPF</text></g><g><text x="51.70" y="340.70" font-size="8.25" fill="#2a2a2a" text-anchor="middle">0</text><line x1="61.25" y1="251.90" x2="61.25" y2="254.20" stroke="#505050" stroke-width="0.8"/><text x="61.65" y="340.70" font-size="8.25" fill="#2a2a2a" text-anchor="middle">1</text><line x1="71.21" y1="251.90" x2="71.21" y2="254.20" stroke="#505050" stroke-width="0.8"/><text x="71.61" y="340.70" font-size="8.25" fill="#2a2a2a" text-anchor="middle">2</text><line x1="81.16" y1="251.90" x2="81.16" y2="254.20" stroke="#505050" stroke-width="0.8"/><text x="81.56" y="340.70" font-size="8.25" fill="#2a2a2a" text-anchor="middle">3</text><line x1="91.12" y1="251.90" x2="91.12" y2="254.20" stroke="#505050" stroke-width="0.8"/><text x="91.52" y="340.70" font-size="8.25" fill="#2a2a2a" text-anchor="middle">4</text><line x1="101.07" y1="251.90" x2="101.07" y2="254.20" stroke="#505050" stroke-width="0.8"/><text x="101.47" y="340.70" font-size="8.25" fill="#2a2a2a" text-anchor="middle">5</text><line x1="111.03" y1="251.90" x2="111.03" y2="254.20" stroke="#505050" stroke-width="0.8"/><text x="111.43" y="340.70" font-size="8.25" fill="#2a2a2a" text-anchor="middle">6</text><line x1="120.98" y1="251.90" x2="120.98" y2="254.20" stroke="#505050" stroke-width="0.8"/><text x="121.39" y="340.70" font-size="8.25" fill="#2a2a2a" text-anchor="middle">7</text><line x1="130.94" y1="251.90" x2="130.94" y2="254.20" stroke="#505050" stroke-width="0.8"/><text x="131.34" y="340.70" font-size="8.25" fill="#2a2a2a" text-anchor="middle">8</text><line x1="140.89" y1="251.90" x2="140.89" y2="254.20" stroke="#505050" stroke-width="0.8"/><text x="141.29" y="340.70" font-size="8.25" fill="#2a2a2a" text-anchor="middle">9</text><line x1="150.85" y1="251.90" x2="150.85" y2="254.20" stroke="#505050" stroke-width="0.8"/><text x="151.25" y="340.70" font-size="8.25" fill="#2a2a2a" text-anchor="middle">10</text><line x1="160.81" y1="251.90" x2="160.81" y2="254.20" stroke="#505050" stroke-width="0.8"/><text x="161.21" y="340.70" font-size="8.25" fill="#2a2a2a" text-anchor="middle">11</text><line x1="170.76" y1="251.90" x2="170.76" y2="254.20" stroke="#505050" stroke-width="0.8"/><text x="171.16" y="340.70" font-size="8.25" fill="#2a2a2a" text-anchor="middle">12</text><line x1="180.71" y1="251.90" x2="180.71" y2="254.20" stroke="#505050" stroke-width="0.8"/><text x="181.11" y="340.70" font-size="8.25" fill="#2a2a2a" text-anchor="middle">13</text><line x1="190.67" y1="251.90" x2="190.67" y2="254.20" stroke="#505050" stroke-width="0.8"/><text x="191.07" y="340.70" font-size="8.25" fill="#2a2a2a" text-anchor="middle">14</text><line x1="200.62" y1="251.90" x2="200.62" y2="254.20" stroke="#505050" stroke-width="0.8"/><text x="201.03" y="340.70" font-size="8.25" fill="#2a2a2a" text-anchor="middle">15</text><line x1="210.58" y1="251.90" x2="210.58" y2="254.20" stroke="#505050" stroke-width="0.8"/><text x="210.98" y="340.70" font-size="8.25" fill="#2a2a2a" text-anchor="middle">16</text><line x1="220.54" y1="251.90" x2="220.54" y2="254.20" stroke="#505050" stroke-width="0.8"/><text x="220.94" y="340.70" font-size="8.25" fill="#2a2a2a" text-anchor="middle">17</text><line x1="230.49" y1="251.90" x2="230.49" y2="254.20" stroke="#505050" stroke-width="0.8"/><text x="230.89" y="340.70" font-size="8.25" fill="#2a2a2a" text-anchor="middle">18</text><line x1="240.44" y1="251.90" x2="240.44" y2="254.20" stroke="#505050" stroke-width="0.8"/><text x="240.84" y="340.70" font-size="8.25" fill="#2a2a2a" text-anchor="middle">19</text><line x1="250.40" y1="251.90" x2="250.40" y2="254.20" stroke="#505050" stroke-width="0.8"/><text x="250.80" y="340.70" font-size="8.25" fill="#2a2a2a" text-anchor="middle">20</text><text x="47.50" y="332.10" font-size="8.25" fill="#2a2a2a" text-anchor="end">0</text><line x1="51.40" y1="313.34" x2="53.70" y2="313.34" stroke="#505050" stroke-width="0.8"/><line x1="260.40" y1="313.34" x2="258.10" y2="313.34" stroke="#505050" stroke-width="0.8"/><text x="47.50" y="316.74" font-size="8.25" fill="#2a2a2a" text-anchor="end">0.1</text><line x1="51.40" y1="297.98" x2="53.70" y2="297.98" stroke="#505050" stroke-width="0.8"/><line x1="260.40" y1="297.98" x2="258.10" y2="297.98" stroke="#505050" stroke-width="0.8"/><text x="47.50" y="301.38" font-size="8.25" fill="#2a2a2a" text-anchor="end">0.2</text><line x1="51.40" y1="282.62" x2="53.70" y2="282.62" stroke="#505050" stroke-width="0.8"/><line x1="260.40" y1="282.62" x2="258.10" y2="282.62" stroke="#505050" stroke-width="0.8"/><text x="47.50" y="286.02" font-size="8.25" fill="#2a2a2a" text-anchor="end">0.3</text><line x1="51.40" y1="267.26" x2="53.70" y2="267.26" stroke="#505050" stroke-width="0.8"/><line x1="260.40" y1="267.26" x2="258.10" y2="267.26" stroke="#505050" stroke-width="0.8"/><text x="47.50" y="270.66" font-size="8.25" fill="#2a2a2a" text-anchor="end">0.4</text><text x="47.50" y="255.30" font-size="8.25" fill="#2a2a2a" text-anchor="end">0.5</text><rect x="51.40" y="251.90" width="209.00" height="76.80" fill="none" stroke="#505050" stroke-width="0.9"/><line x1="61.25" y1="329.10" x2="61.25" y2="286.42" stroke="#3399FF" stroke-opacity="0.85" stroke-width="1.05"/><circle cx="61.25" cy="284.92" r="1.5" fill="#fff" stroke="#3399FF" stroke-width="1.0"/><line x1="71.21" y1="329.10" x2="71.21" y2="296.40" stroke="#3399FF" stroke-opacity="0.85" stroke-width="1.05"/><circle cx="71.21" cy="294.90" r="1.5" fill="#fff" stroke="#3399FF" stroke-width="1.0"/><line x1="81.16" y1="329.10" x2="81.16" y2="318.87" stroke="#3399FF" stroke-opacity="0.85" stroke-width="1.05"/><circle cx="81.16" cy="317.37" r="1.5" fill="#fff" stroke="#3399FF" stroke-width="1.0"/><line x1="91.12" y1="329.10" x2="91.12" y2="318.60" stroke="#3399FF" stroke-opacity="0.85" stroke-width="1.05"/><circle cx="91.12" cy="317.10" r="1.5" fill="#fff" stroke="#3399FF" stroke-width="1.0"/><line x1="101.07" y1="329.10" x2="101.07" y2="314.83" stroke="#3399FF" stroke-opacity="0.85" stroke-width="1.05"/><circle cx="101.07" cy="313.33" r="1.5" fill="#fff" stroke="#3399FF" stroke-width="1.0"/><line x1="111.03" y1="329.10" x2="111.03" y2="290.26" stroke="#3399FF" stroke-opacity="0.85" stroke-width="1.05"/><circle cx="111.03" cy="288.76" r="1.5" fill="#fff" stroke="#3399FF" stroke-width="1.0"/><line x1="120.98" y1="329.10" x2="120.98" y2="307.31" stroke="#3399FF" stroke-opacity="0.85" stroke-width="1.05"/><circle cx="120.98" cy="305.81" r="1.5" fill="#fff" stroke="#3399FF" stroke-width="1.0"/><line x1="130.94" y1="329.10" x2="130.94" y2="312.99" stroke="#3399FF" stroke-opacity="0.85" stroke-width="1.05"/><circle cx="130.94" cy="311.49" r="1.5" fill="#fff" stroke="#3399FF" stroke-width="1.0"/><line x1="140.89" y1="329.10" x2="140.89" y2="306.38" stroke="#3399FF" stroke-opacity="0.85" stroke-width="1.05"/><circle cx="140.89" cy="304.88" r="1.5" fill="#fff" stroke="#3399FF" stroke-width="1.0"/><line x1="150.85" y1="329.10" x2="150.85" y2="316.45" stroke="#3399FF" stroke-opacity="0.85" stroke-width="1.05"/><circle cx="150.85" cy="314.95" r="1.5" fill="#fff" stroke="#3399FF" stroke-width="1.0"/><line x1="160.81" y1="329.10" x2="160.81" y2="298.86" stroke="#3399FF" stroke-opacity="0.85" stroke-width="1.05"/><circle cx="160.81" cy="297.36" r="1.5" fill="#fff" stroke="#3399FF" stroke-width="1.0"/><line x1="170.76" y1="329.10" x2="170.76" y2="309.15" stroke="#3399FF" stroke-opacity="0.85" stroke-width="1.05"/><circle cx="170.76" cy="307.65" r="1.5" fill="#fff" stroke="#3399FF" stroke-width="1.0"/><line x1="180.71" y1="329.10" x2="180.71" y2="286.95" stroke="#3399FF" stroke-opacity="0.85" stroke-width="1.05"/><circle cx="180.71" cy="285.45" r="1.5" fill="#fff" stroke="#3399FF" stroke-width="1.0"/><line x1="190.67" y1="329.10" x2="190.67" y2="306.23" stroke="#3399FF" stroke-opacity="0.85" stroke-width="1.05"/><circle cx="190.67" cy="304.73" r="1.5" fill="#fff" stroke="#3399FF" stroke-width="1.0"/><line x1="200.62" y1="329.10" x2="200.62" y2="284.80" stroke="#3399FF" stroke-opacity="0.85" stroke-width="1.05"/><circle cx="200.62" cy="283.30" r="1.5" fill="#fff" stroke="#3399FF" stroke-width="1.0"/><line x1="210.58" y1="329.10" x2="210.58" y2="275.66" stroke="#3399FF" stroke-opacity="0.85" stroke-width="1.05"/><circle cx="210.58" cy="274.16" r="1.5" fill="#fff" stroke="#3399FF" stroke-width="1.0"/><line x1="220.54" y1="329.10" x2="220.54" y2="295.63" stroke="#3399FF" stroke-opacity="0.85" stroke-width="1.05"/><circle cx="220.54" cy="294.13" r="1.5" fill="#fff" stroke="#3399FF" stroke-width="1.0"/><line x1="230.49" y1="329.10" x2="230.49" y2="301.32" stroke="#3399FF" stroke-opacity="0.85" stroke-width="1.05"/><circle cx="230.49" cy="299.82" r="1.5" fill="#fff" stroke="#3399FF" stroke-width="1.0"/><line x1="240.44" y1="329.10" x2="240.44" y2="290.56" stroke="#3399FF" stroke-opacity="0.85" stroke-width="1.05"/><circle cx="240.44" cy="289.06" r="1.5" fill="#fff" stroke="#3399FF" stroke-width="1.0"/><line x1="250.40" y1="329.10" x2="250.40" y2="318.60" stroke="#3399FF" stroke-opacity="0.85" stroke-width="1.05"/><circle cx="250.40" cy="317.10" r="1.5" fill="#fff" stroke="#3399FF" stroke-width="1.0"/><text x="155.90" y="353.60" font-size="9.35" fill="#2a2a2a" text-anchor="middle">Test point number</text><text transform="translate(31.40,290.30) rotate(-90)" font-size="9.35" fill="#2a2a2a" text-anchor="middle">Error (m)</text><rect x="130.30" y="260.05" width="51.00" height="12.20" fill="#fff" stroke="#444" stroke-width="0.85"/><line x1="132.70" y1="266.15" x2="145.50" y2="266.15" stroke="#3399FF" stroke-width="1.05"/><circle cx="145.50" cy="266.15" r="1.5" fill="#fff" stroke="#3399FF" stroke-width="1.0"/><text x="152.60" y="268.85" font-size="7.4" fill="#0a0a0a" style="stroke:#0a0a0a;stroke-width:0.2px">GORPF</text></g><g><text x="326.40" y="340.70" font-size="8.25" fill="#2a2a2a" text-anchor="middle">0</text><line x1="336.00" y1="251.90" x2="336.00" y2="254.20" stroke="#505050" stroke-width="0.8"/><text x="336.40" y="340.70" font-size="8.25" fill="#2a2a2a" text-anchor="middle">1</text><line x1="346.00" y1="251.90" x2="346.00" y2="254.20" stroke="#505050" stroke-width="0.8"/><text x="346.40" y="340.70" font-size="8.25" fill="#2a2a2a" text-anchor="middle">2</text><line x1="356.00" y1="251.90" x2="356.00" y2="254.20" stroke="#505050" stroke-width="0.8"/><text x="356.40" y="340.70" font-size="8.25" fill="#2a2a2a" text-anchor="middle">3</text><line x1="366.00" y1="251.90" x2="366.00" y2="254.20" stroke="#505050" stroke-width="0.8"/><text x="366.40" y="340.70" font-size="8.25" fill="#2a2a2a" text-anchor="middle">4</text><line x1="376.00" y1="251.90" x2="376.00" y2="254.20" stroke="#505050" stroke-width="0.8"/><text x="376.40" y="340.70" font-size="8.25" fill="#2a2a2a" text-anchor="middle">5</text><line x1="386.00" y1="251.90" x2="386.00" y2="254.20" stroke="#505050" stroke-width="0.8"/><text x="386.40" y="340.70" font-size="8.25" fill="#2a2a2a" text-anchor="middle">6</text><line x1="396.00" y1="251.90" x2="396.00" y2="254.20" stroke="#505050" stroke-width="0.8"/><text x="396.40" y="340.70" font-size="8.25" fill="#2a2a2a" text-anchor="middle">7</text><line x1="406.00" y1="251.90" x2="406.00" y2="254.20" stroke="#505050" stroke-width="0.8"/><text x="406.40" y="340.70" font-size="8.25" fill="#2a2a2a" text-anchor="middle">8</text><line x1="416.00" y1="251.90" x2="416.00" y2="254.20" stroke="#505050" stroke-width="0.8"/><text x="416.40" y="340.70" font-size="8.25" fill="#2a2a2a" text-anchor="middle">9</text><line x1="426.00" y1="251.90" x2="426.00" y2="254.20" stroke="#505050" stroke-width="0.8"/><text x="426.40" y="340.70" font-size="8.25" fill="#2a2a2a" text-anchor="middle">10</text><line x1="436.00" y1="251.90" x2="436.00" y2="254.20" stroke="#505050" stroke-width="0.8"/><text x="436.40" y="340.70" font-size="8.25" fill="#2a2a2a" text-anchor="middle">11</text><line x1="446.00" y1="251.90" x2="446.00" y2="254.20" stroke="#505050" stroke-width="0.8"/><text x="446.40" y="340.70" font-size="8.25" fill="#2a2a2a" text-anchor="middle">12</text><line x1="456.00" y1="251.90" x2="456.00" y2="254.20" stroke="#505050" stroke-width="0.8"/><text x="456.40" y="340.70" font-size="8.25" fill="#2a2a2a" text-anchor="middle">13</text><line x1="466.00" y1="251.90" x2="466.00" y2="254.20" stroke="#505050" stroke-width="0.8"/><text x="466.40" y="340.70" font-size="8.25" fill="#2a2a2a" text-anchor="middle">14</text><line x1="476.00" y1="251.90" x2="476.00" y2="254.20" stroke="#505050" stroke-width="0.8"/><text x="476.40" y="340.70" font-size="8.25" fill="#2a2a2a" text-anchor="middle">15</text><line x1="486.00" y1="251.90" x2="486.00" y2="254.20" stroke="#505050" stroke-width="0.8"/><text x="486.40" y="340.70" font-size="8.25" fill="#2a2a2a" text-anchor="middle">16</text><line x1="496.00" y1="251.90" x2="496.00" y2="254.20" stroke="#505050" stroke-width="0.8"/><text x="496.40" y="340.70" font-size="8.25" fill="#2a2a2a" text-anchor="middle">17</text><line x1="506.00" y1="251.90" x2="506.00" y2="254.20" stroke="#505050" stroke-width="0.8"/><text x="506.40" y="340.70" font-size="8.25" fill="#2a2a2a" text-anchor="middle">18</text><line x1="516.00" y1="251.90" x2="516.00" y2="254.20" stroke="#505050" stroke-width="0.8"/><text x="516.40" y="340.70" font-size="8.25" fill="#2a2a2a" text-anchor="middle">19</text><line x1="526.00" y1="251.90" x2="526.00" y2="254.20" stroke="#505050" stroke-width="0.8"/><text x="526.40" y="340.70" font-size="8.25" fill="#2a2a2a" text-anchor="middle">20</text><text x="322.60" y="332.10" font-size="8.25" fill="#2a2a2a" text-anchor="end">0</text><line x1="326.50" y1="313.34" x2="328.80" y2="313.34" stroke="#505050" stroke-width="0.8"/><line x1="536.00" y1="313.34" x2="533.70" y2="313.34" stroke="#505050" stroke-width="0.8"/><text x="322.60" y="316.74" font-size="8.25" fill="#2a2a2a" text-anchor="end">0.1</text><line x1="326.50" y1="297.98" x2="328.80" y2="297.98" stroke="#505050" stroke-width="0.8"/><line x1="536.00" y1="297.98" x2="533.70" y2="297.98" stroke="#505050" stroke-width="0.8"/><text x="322.60" y="301.38" font-size="8.25" fill="#2a2a2a" text-anchor="end">0.2</text><line x1="326.50" y1="282.62" x2="328.80" y2="282.62" stroke="#505050" stroke-width="0.8"/><line x1="536.00" y1="282.62" x2="533.70" y2="282.62" stroke="#505050" stroke-width="0.8"/><text x="322.60" y="286.02" font-size="8.25" fill="#2a2a2a" text-anchor="end">0.3</text><line x1="326.50" y1="267.26" x2="328.80" y2="267.26" stroke="#505050" stroke-width="0.8"/><line x1="536.00" y1="267.26" x2="533.70" y2="267.26" stroke="#505050" stroke-width="0.8"/><text x="322.60" y="270.66" font-size="8.25" fill="#2a2a2a" text-anchor="end">0.4</text><text x="322.60" y="255.30" font-size="8.25" fill="#2a2a2a" text-anchor="end">0.5</text><rect x="326.50" y="251.90" width="209.50" height="76.80" fill="none" stroke="#505050" stroke-width="0.9"/><line x1="336.00" y1="329.10" x2="336.00" y2="262.92" stroke="#FCD22A" stroke-opacity="0.85" stroke-width="1.05"/><circle cx="336.00" cy="261.42" r="1.5" fill="#fff" stroke="#FCD22A" stroke-width="1.0"/><line x1="346.00" y1="329.10" x2="346.00" y2="283.71" stroke="#FCD22A" stroke-opacity="0.85" stroke-width="1.05"/><circle cx="346.00" cy="282.21" r="1.5" fill="#fff" stroke="#FCD22A" stroke-width="1.0"/><line x1="356.00" y1="329.10" x2="356.00" y2="292.41" stroke="#FCD22A" stroke-opacity="0.85" stroke-width="1.05"/><circle cx="356.00" cy="290.91" r="1.5" fill="#fff" stroke="#FCD22A" stroke-width="1.0"/><line x1="366.00" y1="329.10" x2="366.00" y2="304.85" stroke="#FCD22A" stroke-opacity="0.85" stroke-width="1.05"/><circle cx="366.00" cy="303.35" r="1.5" fill="#fff" stroke="#FCD22A" stroke-width="1.0"/><line x1="376.00" y1="329.10" x2="376.00" y2="299.40" stroke="#FCD22A" stroke-opacity="0.85" stroke-width="1.05"/><circle cx="376.00" cy="297.90" r="1.5" fill="#fff" stroke="#FCD22A" stroke-width="1.0"/><line x1="386.00" y1="329.10" x2="386.00" y2="291.79" stroke="#FCD22A" stroke-opacity="0.85" stroke-width="1.05"/><circle cx="386.00" cy="290.29" r="1.5" fill="#fff" stroke="#FCD22A" stroke-width="1.0"/><line x1="396.00" y1="329.10" x2="396.00" y2="301.62" stroke="#FCD22A" stroke-opacity="0.85" stroke-width="1.05"/><circle cx="396.00" cy="300.12" r="1.5" fill="#fff" stroke="#FCD22A" stroke-width="1.0"/><line x1="406.00" y1="329.10" x2="406.00" y2="300.70" stroke="#FCD22A" stroke-opacity="0.85" stroke-width="1.05"/><circle cx="406.00" cy="299.20" r="1.5" fill="#fff" stroke="#FCD22A" stroke-width="1.0"/><line x1="416.00" y1="329.10" x2="416.00" y2="304.54" stroke="#FCD22A" stroke-opacity="0.85" stroke-width="1.05"/><circle cx="416.00" cy="303.04" r="1.5" fill="#fff" stroke="#FCD22A" stroke-width="1.0"/><line x1="426.00" y1="329.10" x2="426.00" y2="305.31" stroke="#FCD22A" stroke-opacity="0.85" stroke-width="1.05"/><circle cx="426.00" cy="303.81" r="1.5" fill="#fff" stroke="#FCD22A" stroke-width="1.0"/><line x1="436.00" y1="329.10" x2="436.00" y2="310.22" stroke="#FCD22A" stroke-opacity="0.85" stroke-width="1.05"/><circle cx="436.00" cy="308.72" r="1.5" fill="#fff" stroke="#FCD22A" stroke-width="1.0"/><line x1="446.00" y1="329.10" x2="446.00" y2="299.40" stroke="#FCD22A" stroke-opacity="0.85" stroke-width="1.05"/><circle cx="446.00" cy="297.90" r="1.5" fill="#fff" stroke="#FCD22A" stroke-width="1.0"/><line x1="456.00" y1="329.10" x2="456.00" y2="283.19" stroke="#FCD22A" stroke-opacity="0.85" stroke-width="1.05"/><circle cx="456.00" cy="281.69" r="1.5" fill="#fff" stroke="#FCD22A" stroke-width="1.0"/><line x1="466.00" y1="329.10" x2="466.00" y2="264.30" stroke="#FCD22A" stroke-opacity="0.85" stroke-width="1.05"/><circle cx="466.00" cy="262.80" r="1.5" fill="#fff" stroke="#FCD22A" stroke-width="1.0"/><line x1="476.00" y1="329.10" x2="476.00" y2="271.27" stroke="#FCD22A" stroke-opacity="0.85" stroke-width="1.05"/><circle cx="476.00" cy="269.77" r="1.5" fill="#fff" stroke="#FCD22A" stroke-width="1.0"/><line x1="486.00" y1="329.10" x2="486.00" y2="290.26" stroke="#FCD22A" stroke-opacity="0.85" stroke-width="1.05"/><circle cx="486.00" cy="288.76" r="1.5" fill="#fff" stroke="#FCD22A" stroke-width="1.0"/><line x1="496.00" y1="329.10" x2="496.00" y2="282.88" stroke="#FCD22A" stroke-opacity="0.85" stroke-width="1.05"/><circle cx="496.00" cy="281.38" r="1.5" fill="#fff" stroke="#FCD22A" stroke-width="1.0"/><line x1="506.00" y1="329.10" x2="506.00" y2="280.47" stroke="#FCD22A" stroke-opacity="0.85" stroke-width="1.05"/><circle cx="506.00" cy="278.97" r="1.5" fill="#fff" stroke="#FCD22A" stroke-width="1.0"/><line x1="516.00" y1="329.10" x2="516.00" y2="269.12" stroke="#FCD22A" stroke-opacity="0.85" stroke-width="1.05"/><circle cx="516.00" cy="267.62" r="1.5" fill="#fff" stroke="#FCD22A" stroke-width="1.0"/><line x1="526.00" y1="329.10" x2="526.00" y2="298.09" stroke="#FCD22A" stroke-opacity="0.85" stroke-width="1.05"/><circle cx="526.00" cy="296.59" r="1.5" fill="#fff" stroke="#FCD22A" stroke-width="1.0"/><text x="431.25" y="353.60" font-size="9.35" fill="#2a2a2a" text-anchor="middle">Test point number</text><text transform="translate(306.50,290.30) rotate(-90)" font-size="9.35" fill="#2a2a2a" text-anchor="middle">Error (m)</text><rect x="411.20" y="260.05" width="39.70" height="12.20" fill="#fff" stroke="#444" stroke-width="0.85"/><line x1="413.60" y1="266.15" x2="426.40" y2="266.15" stroke="#FCD22A" stroke-width="1.05"/><circle cx="426.40" cy="266.15" r="1.5" fill="#fff" stroke="#FCD22A" stroke-width="1.0"/><text x="434.10" y="268.85" font-size="7.4" fill="#0a0a0a" style="stroke:#0a0a0a;stroke-width:0.2px">EKF</text></g></svg>
</body></html>
